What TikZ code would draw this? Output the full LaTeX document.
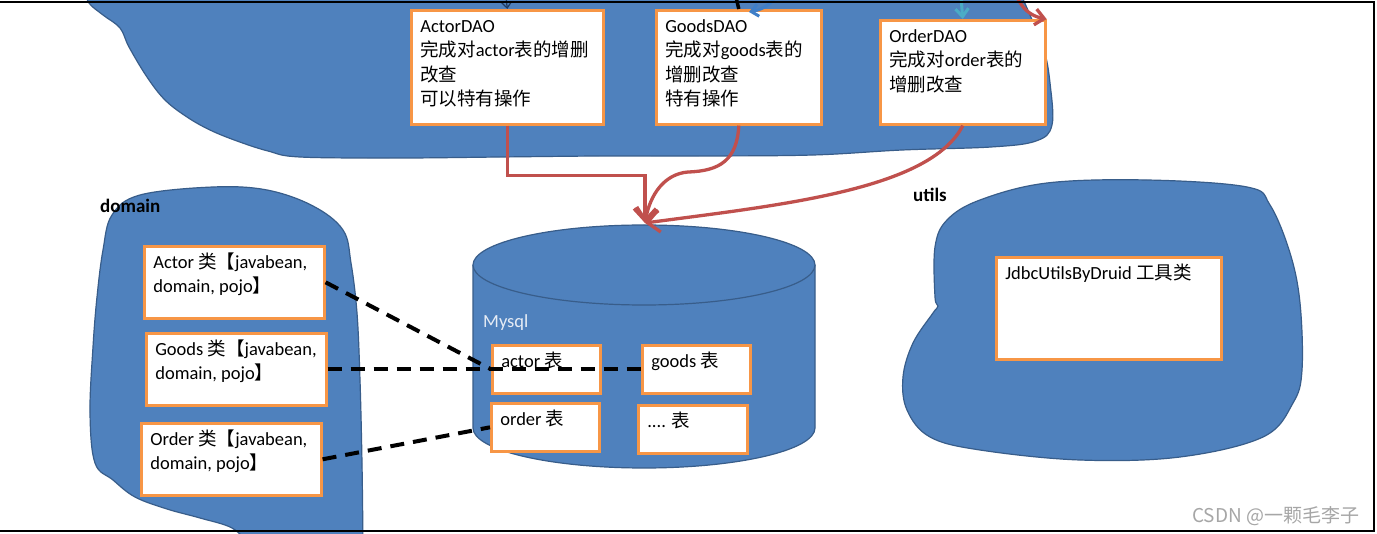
\documentclass[tikz,border=0pt]{standalone}
\usepackage{fontspec}
\setmainfont{Carlito}
\newfontfamily\cjk{Noto Sans CJK SC}
\usetikzlibrary{arrows.meta,calc}
\definecolor{blobfill}{HTML}{4F81BD}
\definecolor{blobline}{HTML}{385D8A}
\definecolor{boxline}{HTML}{F79646}
\definecolor{redline}{HTML}{C0504D}
\definecolor{aqua}{HTML}{4BACC6}
\definecolor{navyblue}{HTML}{1F3A60}
\definecolor{midblue}{HTML}{3F7FC8}
\definecolor{mysqltext}{HTML}{E6ECF5}
\definecolor{wmgray}{HTML}{A6A6A6}
\newcommand\zh[1]{{\cjk #1}}
\newcommand\bxt[3]{\parbox[t][#2][t]{#1}{\raggedright\leftskip=9pt\parindent=0pt\vspace*{5pt}\strut #3}}
\tikzset{
  blob/.style={fill=blobfill, draw=blobline, line width=1.2pt},
  wbox/.style={draw=boxline, line width=2.6pt, fill=white, inner sep=0pt, anchor=north west,
    font=\fontsize{18.5pt}{24.5pt}\selectfont},
  redarr/.style={draw=redline, line width=3.3pt, -{Straight Barb[length=12pt,width=22pt]}},
  dashlink/.style={black, line width=4pt, dash pattern=on 14pt off 9pt},
  blabel/.style={font=\fontsize{19pt}{22pt}\selectfont\bfseries, anchor=base west, inner sep=0pt},
}
\begin{document}
\begin{tikzpicture}[x=1pt,y=-1pt]
\clip (0,0) rectangle (1377,534);
\fill[white] (0,0) rectangle (1377,534);

% blobs
\path[blob] plot[smooth, tension=0.6] coordinates {(84,-12) (89,3) (103,15) (120,28) (129,47) (147,77) (165,100) (187,117) (210,130) (237,141) (268,151) (300,157) (400,158) (500,157) (600,156) (700,156) (813,155) (902,150) (991,147) (1036,141) (1052,125) (1050,83) (1044,50) (1030,15) (1018,-12)} -- cycle;
\path[blob] plot[smooth, tension=0.6] coordinates {(250,545) (232,528) (200,518) (167,509) (135,497) (113,480) (95,463) (90,413) (93,347) (97,297) (103,250) (112,215) (140,195) (213,187) (267,190) (313,206) (343,230) (351,263) (357,313) (360,380) (362,463) (363,545)} -- cycle;
\path[blob] plot[smooth cycle, tension=0.6] coordinates {(980,200) (1047,183) (1147,180) (1247,187) (1270,205) (1290,253) (1300,303) (1302,370) (1293,403) (1263,437) (1180,457) (1080,460) (980,450) (930,437) (907,410) (903,377) (913,343) (933,313) (938,306) (935,297) (935,247) (947,220)};

% cylinder
\fill[blobfill] (473,265) -- (473,428) arc[start angle=180,end angle=360,x radius=171pt,y radius=40pt] -- (815,265) -- cycle;
\draw[blobline, line width=1.2pt] (473,265) -- (473,428) arc[start angle=180,end angle=360,x radius=171pt,y radius=40pt] -- (815,265);
\draw[blob] (644,265) ellipse [x radius=171pt, y radius=40pt];
\coordinate (dbtop) at (645,223);
\node[anchor=base west, inner sep=0pt, text=mysqltext, font=\fontsize{18.5pt}{22pt}\selectfont] (mysql) at (483,328) {Mysql};

% labels
\node[blabel] (domainlbl) at (100,213) {domain};
\node[blabel] (utilslbl) at (913,202) {utils};

% DAO boxes
\node[wbox] (actordao) at (410,9) {\bxt{192pt}{114pt}{ActorDAO\\\zh{完成对}actor\zh{表的增删}\\\zh{改查}\\\zh{可以特有操作}}};
\node[wbox] (goodsdao) at (655,9) {\bxt{165pt}{114pt}{GoodsDAO\\\zh{完成对}goods\zh{表的}\\\zh{增删改查}\\\zh{特有操作}}};
\node[wbox] (orderdao) at (879,19) {\bxt{165pt}{104pt}{OrderDAO\\\zh{完成对}order\zh{表的}\\\zh{增删改查}}};

% top fragments
\coordinate (ntop1) at (506,-3);
\coordinate (ntop2) at (736,-3);
\coordinate (ntop3) at (775,-3);
\coordinate (ntop4) at (961,-3);
\coordinate (ntop5) at (1017,-3);
\coordinate (bluetip) at (749,12);
\draw[navyblue, line width=1.2pt, -{Straight Barb[length=6pt,width=10pt]}] (ntop1) -- (actordao.north);
\draw[black, line width=3.5pt] (ntop2) -- (goodsdao.north);
\draw[midblue, line width=3pt, -{Straight Barb[length=7pt,width=12pt]}] (ntop3) .. controls (770,6) and (760,10) .. (bluetip);
\draw[aqua, line width=3pt, -{Straight Barb[length=8pt,width=13pt]}] (ntop4) -- (orderdao.north);
\draw[redline, line width=3.3pt, -{Straight Barb[length=9pt,width=16pt]}] (ntop5) .. controls (1022,8) and (1030,16) .. (orderdao.north east);

% red arrows to database
\draw[redarr] (actordao.south) -- ++(0,50) -| (dbtop);
\draw[redarr] (goodsdao.south) .. controls (737,160) and (720,171) .. (688,172) .. controls (664,174) and (650,195) .. (dbtop);
\draw[redarr] (orderdao.south) .. controls (930,190) and (780,205) .. (dbtop);

% domain boxes
\node[wbox] (actorcls) at (143,245) {\bxt{180pt}{72pt}{Actor \zh{类【}javabean,\\domain, pojo\zh{】}}};
\node[wbox] (goodscls) at (145,332) {\bxt{180pt}{72pt}{Goods \zh{类【}javabean,\\domain, pojo\zh{】}}};
\node[wbox] (ordercls) at (140,422) {\bxt{180pt}{72pt}{Order \zh{类【}javabean,\\domain, pojo\zh{】}}};

% table boxes
\node[wbox] (actortb) at (491,344) {\bxt{108pt}{48pt}{actor \zh{表}}};
\node[wbox] (goodstb) at (641,344) {\bxt{108pt}{48pt}{goods \zh{表}}};
\node[wbox] (ordertb) at (490,402) {\bxt{108pt}{48pt}{order \zh{表}}};
\node[wbox] (moretb) at (637,404) {\bxt{109pt}{48pt}{.... \zh{表}}};

% utils box
\node[wbox] (jdbc) at (995,256) {\bxt{225pt}{102pt}{JdbcUtilsByDruid \zh{工具类}}};

% dashed links
\draw[dashlink] (actorcls.east) -- (actortb.west);
\draw[dashlink] (goodscls.east) -- (goodstb.west);
\draw[dashlink] (ordercls.east) -- (ordertb.west);

% watermark
\node[anchor=base west, inner sep=0pt, text=wmgray, font=\cjk\fontsize{19pt}{22pt}\selectfont] (wm) at (1192,522) {CSDN @一颗毛李子};

% frame
\draw[black, line width=1.5pt] (0,2) -- (1374,2) -- (1374,531) -- (0,531);
\end{tikzpicture}
\end{document}
